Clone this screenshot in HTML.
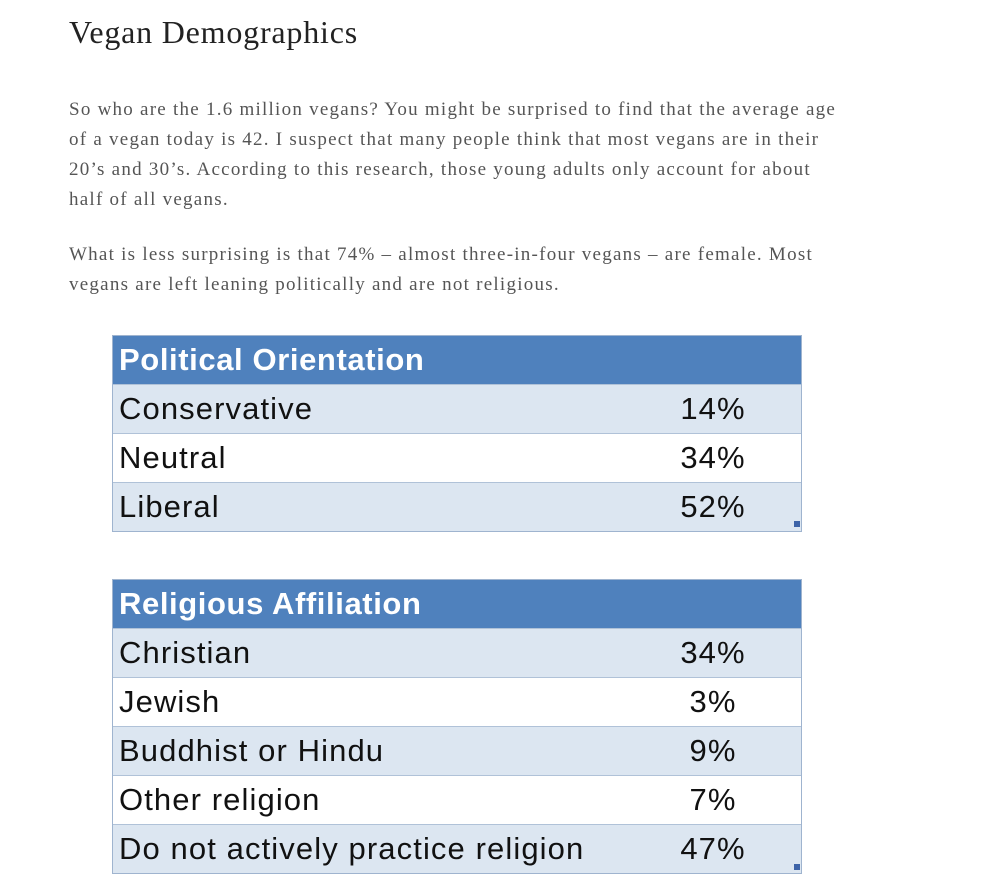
<!DOCTYPE html>
<html><head><meta charset="utf-8"><style>
body{margin:0;width:996px;height:883px;background:#fff;position:relative;overflow:hidden}
h1{position:absolute;left:69px;top:14px;margin:0;font:400 32px "Liberation Serif",serif;color:#222;letter-spacing:0.8px}
.p{position:absolute;left:69px;font:400 19px/30px "Liberation Serif",serif;color:#555;white-space:nowrap;letter-spacing:1.25px}
.tbl{position:absolute;left:112px;width:690px;border:1px solid #9fb4cf;box-sizing:border-box}
.r{height:49px;position:relative;border-top:1px solid #b0c2d8;box-sizing:border-box;font:400 31px/48px "Liberation Sans",sans-serif;color:#111;letter-spacing:1.1px}
.r .l{position:absolute;left:6px;top:0}
.r .v{position:absolute;left:555px;width:90px;text-align:center;top:0}
.h{background:#4f81bd;color:#fff;font-weight:700;border-top:none;height:48px;letter-spacing:0.6px}
.a{background:#dce6f1}.w{background:#fff}
.c{position:absolute;width:6px;height:6px;background:#3d63a8}
</style></head><body>
<h1>Vegan Demographics</h1>
<div class="p" style="top:95px">So who are the 1.6 million vegans? You might be surprised to find that the average age<br>of a vegan today is 42. I suspect that many people think that most vegans are in their<br>20’s and 30’s. According to this research, those young adults only account for about<br>half of all vegans.</div>
<div class="p" style="top:240px">What is less surprising is that 74% – almost three-in-four vegans – are female. Most<br>vegans are left leaning politically and are not religious.</div>

<div class="tbl" style="top:335px">
<div class="r h"><span class="l">Political Orientation</span></div>
<div class="r a"><span class="l">Conservative</span><span class="v">14%</span></div>
<div class="r w"><span class="l">Neutral</span><span class="v">34%</span></div>
<div class="r a"><span class="l">Liberal</span><span class="v">52%</span></div>
</div>
<div class="c" style="left:794px;top:521px"></div>

<div class="tbl" style="top:579px">
<div class="r h"><span class="l">Religious Affiliation</span></div>
<div class="r a"><span class="l">Christian</span><span class="v">34%</span></div>
<div class="r w"><span class="l">Jewish</span><span class="v">3%</span></div>
<div class="r a"><span class="l">Buddhist or Hindu</span><span class="v">9%</span></div>
<div class="r w"><span class="l">Other religion</span><span class="v">7%</span></div>
<div class="r a"><span class="l">Do not actively practice religion</span><span class="v">47%</span></div>
</div>
<div class="c" style="left:794px;top:864px"></div>
</body></html>
